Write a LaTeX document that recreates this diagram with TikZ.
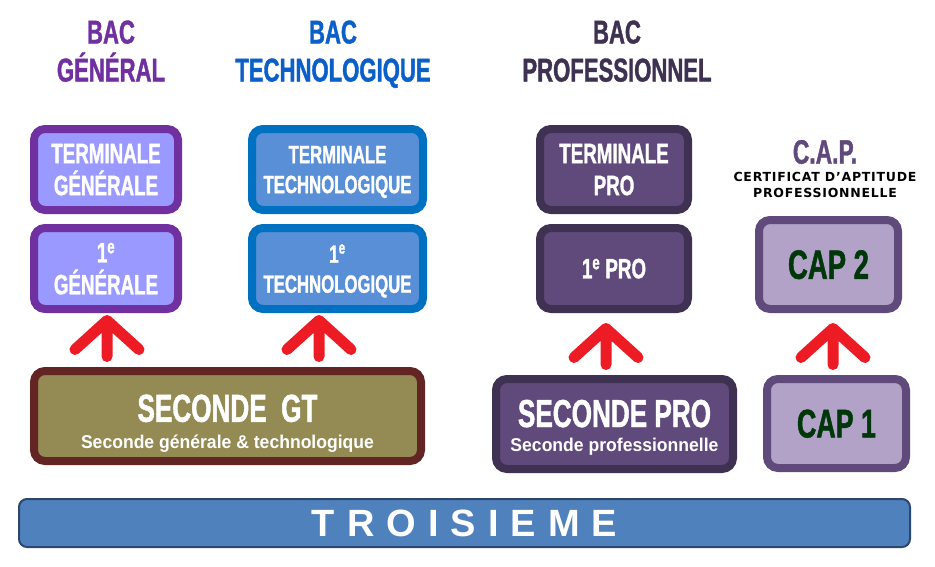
\documentclass[tikz,border=0pt]{standalone}
\usepackage{fontspec}
\setmainfont{Liberation Sans}
\newfontfamily\condfont[FakeStretch=0.67, FakeBold=1.2]{Liberation Sans}
\newfontfamily\subfont[FakeStretch=0.95]{Liberation Sans}
\newfontfamily\capfont[LetterSpace=6]{DejaVu Sans}
\usetikzlibrary{positioning,calc}
\definecolor{GenPurple}{RGB}{112,48,160}
\definecolor{GenFill}{RGB}{153,153,255}
\definecolor{TechBlue}{RGB}{0,112,192}
\definecolor{TechFill}{RGB}{88,143,214}
\definecolor{TechTitle}{RGB}{10,95,200}
\definecolor{ProDark}{RGB}{63,49,81}
\definecolor{ProFill}{RGB}{96,74,123}
\definecolor{CapFill}{RGB}{179,162,199}
\definecolor{CapGreen}{RGB}{0,55,10}
\definecolor{GtBorder}{RGB}{99,37,35}
\definecolor{GtFill}{RGB}{148,138,84}
\definecolor{BarFill}{RGB}{79,129,189}
\definecolor{BarBorder}{RGB}{44,70,110}
\definecolor{ArrowRed}{RGB}{237,28,36}
\tikzset{%
  level/.style={%
    rounded corners=11pt, line width=8pt, outer sep=4pt, inner sep=0pt,
    align=center, text=white, text depth=0pt,
    font=\condfont\bfseries\fontsize{28}{32}\selectfont
  },
  general/.style={level, draw=GenPurple, fill=GenFill, minimum width=144pt, minimum height=81pt},
  techno/.style={level, draw=TechBlue, fill=TechFill, minimum width=171pt, minimum height=81pt,
    font=\condfont\bfseries\fontsize{25}{30}\selectfont},
  pro/.style={level, draw=ProDark, fill=ProFill, minimum width=148pt, minimum height=81pt},
  capbox/.style={level, draw=ProFill, fill=CapFill, text=CapGreen, minimum width=139pt, minimum height=89pt,
    font=\condfont\bfseries\fontsize{41}{41}\selectfont},
  seconde/.style={level, minimum height=90pt,
    font=\condfont\bfseries\fontsize{39}{39}\selectfont},
  heading/.style={align=center, text depth=0pt, font=\condfont\bfseries\fontsize{33}{38}\selectfont},
  redarrow/.style={draw=ArrowRed, line width=11pt, line cap=round, line join=round},
  troisieme/.style={%
    draw=BarBorder, fill=BarFill, line width=2pt, rounded corners=8pt,
    minimum width=891pt, minimum height=48pt, text=white,
    font=\bfseries\fontsize{38}{38}\selectfont\addfontfeature{LetterSpace=31.6}
  },
}

\begin{document}
\begin{tikzpicture}[x=1pt, y=-1pt]
        \useasboundingbox (0,0) rectangle (935,566);

        \node (bacgen)[heading, text=GenPurple] at (111,51) {BAC\\GÉNÉRAL};
        \node (bactech)[heading, text=TechTitle] at (333,51) {BAC\\TECHNOLOGIQUE};
        \node (bacpro)[heading, text=ProDark] at (617,51) {BAC\\PROFESSIONNEL};
        \node (captitle)[font=\condfont\bfseries\fontsize{34}{34}\selectfont, text=ProFill] at (825,152) {C.A.P.};
        \node (capsub)[align=center, font=\capfont\bfseries\fontsize{12.5}{16}\selectfont] at (825,185)
            {CERTIFICAT D’APTITUDE\\PROFESSIONNELLE};

        \node (tg)[general] at (106,169.5) {TERMINALE\\GÉNÉRALE};
        \node (pg)[general, below=10pt of tg] {1\textsuperscript{e}\\GÉNÉRALE};
        \node (tt)[techno] at (337.5,169.5) {TERMINALE\\TECHNOLOGIQUE};
        \node (pt)[techno, below=10pt of tt] {1\textsuperscript{e}\\TECHNOLOGIQUE};
        \node (tp)[pro] at (614,169.5) {TERMINALE\\PRO};
        \node (pp)[pro, below=10pt of tp] {1\textsuperscript{e} PRO};
        \node (cap2)[capbox] at (828.5,264.5) {CAP 2};

        \node (secgt)[seconde, draw=GtBorder, fill=GtFill, minimum width=387pt, text height=64.6pt] at (227.5,416)
            {SECONDE\ \ GT\\[-12.5pt]{\subfont\fontsize{18.5}{20}\selectfont Seconde générale \& technologique}};
        \node (secpro)[seconde, draw=ProDark, fill=ProFill, minimum width=237pt, text height=55.4pt] at (614.5,424)
            {SECONDE PRO\\[-14.3pt]{\subfont\fontsize{18.5}{20}\selectfont Seconde professionnelle}};
        \node (cap1)[capbox, font=\condfont\bfseries\fontsize{40}{40}\selectfont] at (836.5,423.5) {CAP 1};

        \node (troisieme)[troisieme] at (464.5,523) {TROISIEME};

        \foreach \from/\to/\dx/\dy in {secgt/pg/1/7.5, secgt/pt/-18.5/7.5, secpro/pp/-8/15.5, cap1/cap2/4.5/15.5} {
            \path ([xshift=\dx pt]\to.south) coordinate (tip);
            \draw[redarrow]
                (\from.north -| tip) ++(0,-10.5) -- ($(tip)+(0,\dy)$)
                ($(tip)+(-32,\dy+29)$) -- ($(tip)+(0,\dy)$) -- ($(tip)+(32,\dy+29)$);
        }
    \end{tikzpicture}
\end{document}
